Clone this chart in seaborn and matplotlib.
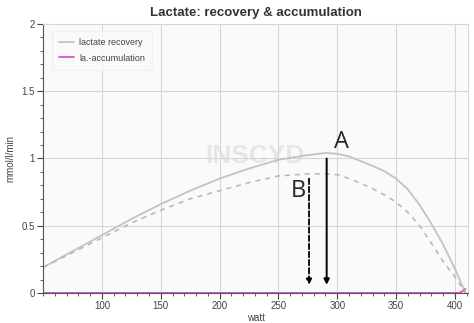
import numpy as np
import pandas as pd
import matplotlib
matplotlib.use("Agg")
import matplotlib.pyplot as plt
from matplotlib.ticker import MultipleLocator
import seaborn as sns

# values
watt = [50, 75, 100, 125, 150, 175, 200, 225, 250, 275, 290, 300, 310, 320, 330, 340,
        350, 360, 370, 380, 390, 400, 409]
recovery = [0.19, 0.31, 0.43, 0.55, 0.66, 0.76, 0.85, 0.925, 0.99, 1.025, 1.04, 1.035, 1.015, 0.98,
            0.945, 0.905, 0.85, 0.77, 0.655, 0.515, 0.36, 0.18, 0.0]
recovery_b = [0.19, 0.30, 0.41, 0.52, 0.615, 0.70, 0.76, 0.82, 0.87, 0.885, 0.885, 0.88, 0.85, 0.815,
              0.775, 0.73, 0.675, 0.60, 0.50, 0.37, 0.235, 0.12, 0.0]
accum_watt = [50, 403, 406, 409]
accumulation = [0.0, 0.0, 0.01, 0.03]

marker_a = (291, 1.02)
marker_b = (276, 0.87)

df = pd.DataFrame({"watt": watt, "recovery": recovery, "recovery_b": recovery_b})
df_acc = pd.DataFrame({"watt": accum_watt, "accumulation": accumulation})

sns.set_style("ticks")
plt.rcParams["font.family"] = ["Liberation Sans", "DejaVu Sans"]

fig = plt.figure(figsize=(4.74, 3.23), dpi=100)
ax = fig.add_axes([0.091, 0.093, 0.896, 0.833])
ax.set_facecolor("#fafafa")

sns.lineplot(data=df, x="watt", y="recovery", ax=ax, color="#bcc6c2", lw=1.3, label="lactate recovery")
sns.lineplot(data=df_acc, x="watt", y="accumulation", ax=ax, color="#d94fd9", lw=1.3, label="la.-accumulation")
sns.lineplot(data=df, x="watt", y="recovery_b", ax=ax, color="#b4bcb9", lw=1.2, linestyle=(0, (3, 3)))

# arrows A and B
ax.annotate("", xy=(marker_a[0], 0.04), xytext=marker_a,
            arrowprops=dict(arrowstyle="-|>", color="black", lw=1.4, mutation_scale=8))
ax.annotate("", xy=(marker_b[0], 0.04), xytext=marker_b,
            arrowprops=dict(arrowstyle="-|>", color="black", lw=1.3, linestyle=(0, (3, 1.5)), mutation_scale=8))
ax.text(304, 1.12, "A", fontsize=17, ha="center", va="center", family=["Open Sans", "DejaVu Sans"])
ax.text(267, 0.76, "B", fontsize=17, ha="center", va="center", family=["Open Sans", "DejaVu Sans"])

# watermark
ax.text(230, 1.02, "INSCYD", fontsize=19, fontweight="bold", color="#e6e6e6",
        ha="center", va="center", zorder=0)

ax.set_xlim(50, 411)
ax.set_ylim(0, 2)
ax.xaxis.set_minor_locator(MultipleLocator(10))
ax.yaxis.set_minor_locator(MultipleLocator(0.1))
ax.set_xticks([100, 150, 200, 250, 300, 350, 400])
ax.set_yticks([0, 0.5, 1, 1.5, 2])
ax.set_yticklabels(["0", "0.5", "1", "1.5", "2"])
ax.grid(True, which="major", color="#d6d6d6", lw=0.8)
ax.tick_params(which="major", length=4, pad=2, labelsize=7, color="#444444", labelcolor="#444444")
ax.tick_params(which="minor", length=2.5, color="#444444")

for s in ["top", "right"]:
    ax.spines[s].set_visible(True)
    ax.spines[s].set_color("#d6d6d6")
for s in ["left", "bottom"]:
    ax.spines[s].set_color("#555555")

ax.set_xlabel("watt", fontsize=7, color="#444444", labelpad=1)
ax.set_ylabel("mmol/l/min", fontsize=7, color="#444444", labelpad=4)
ax.set_title("Lactate: recovery & accumulation", fontsize=9.5, fontweight="bold", color="#333333", pad=6)

leg = ax.legend(loc="upper left", fontsize=6.5, frameon=True, borderpad=0.8, labelspacing=0.7,
                handlelength=1.6, handletextpad=0.6, bbox_to_anchor=(0.01, 0.99))
leg.get_frame().set_facecolor("#fafafa")
leg.get_frame().set_edgecolor("#eeeeee")
for t in leg.get_texts():
    t.set_color("#444444")

fig.savefig("out.png", dpi=100, facecolor="white")
